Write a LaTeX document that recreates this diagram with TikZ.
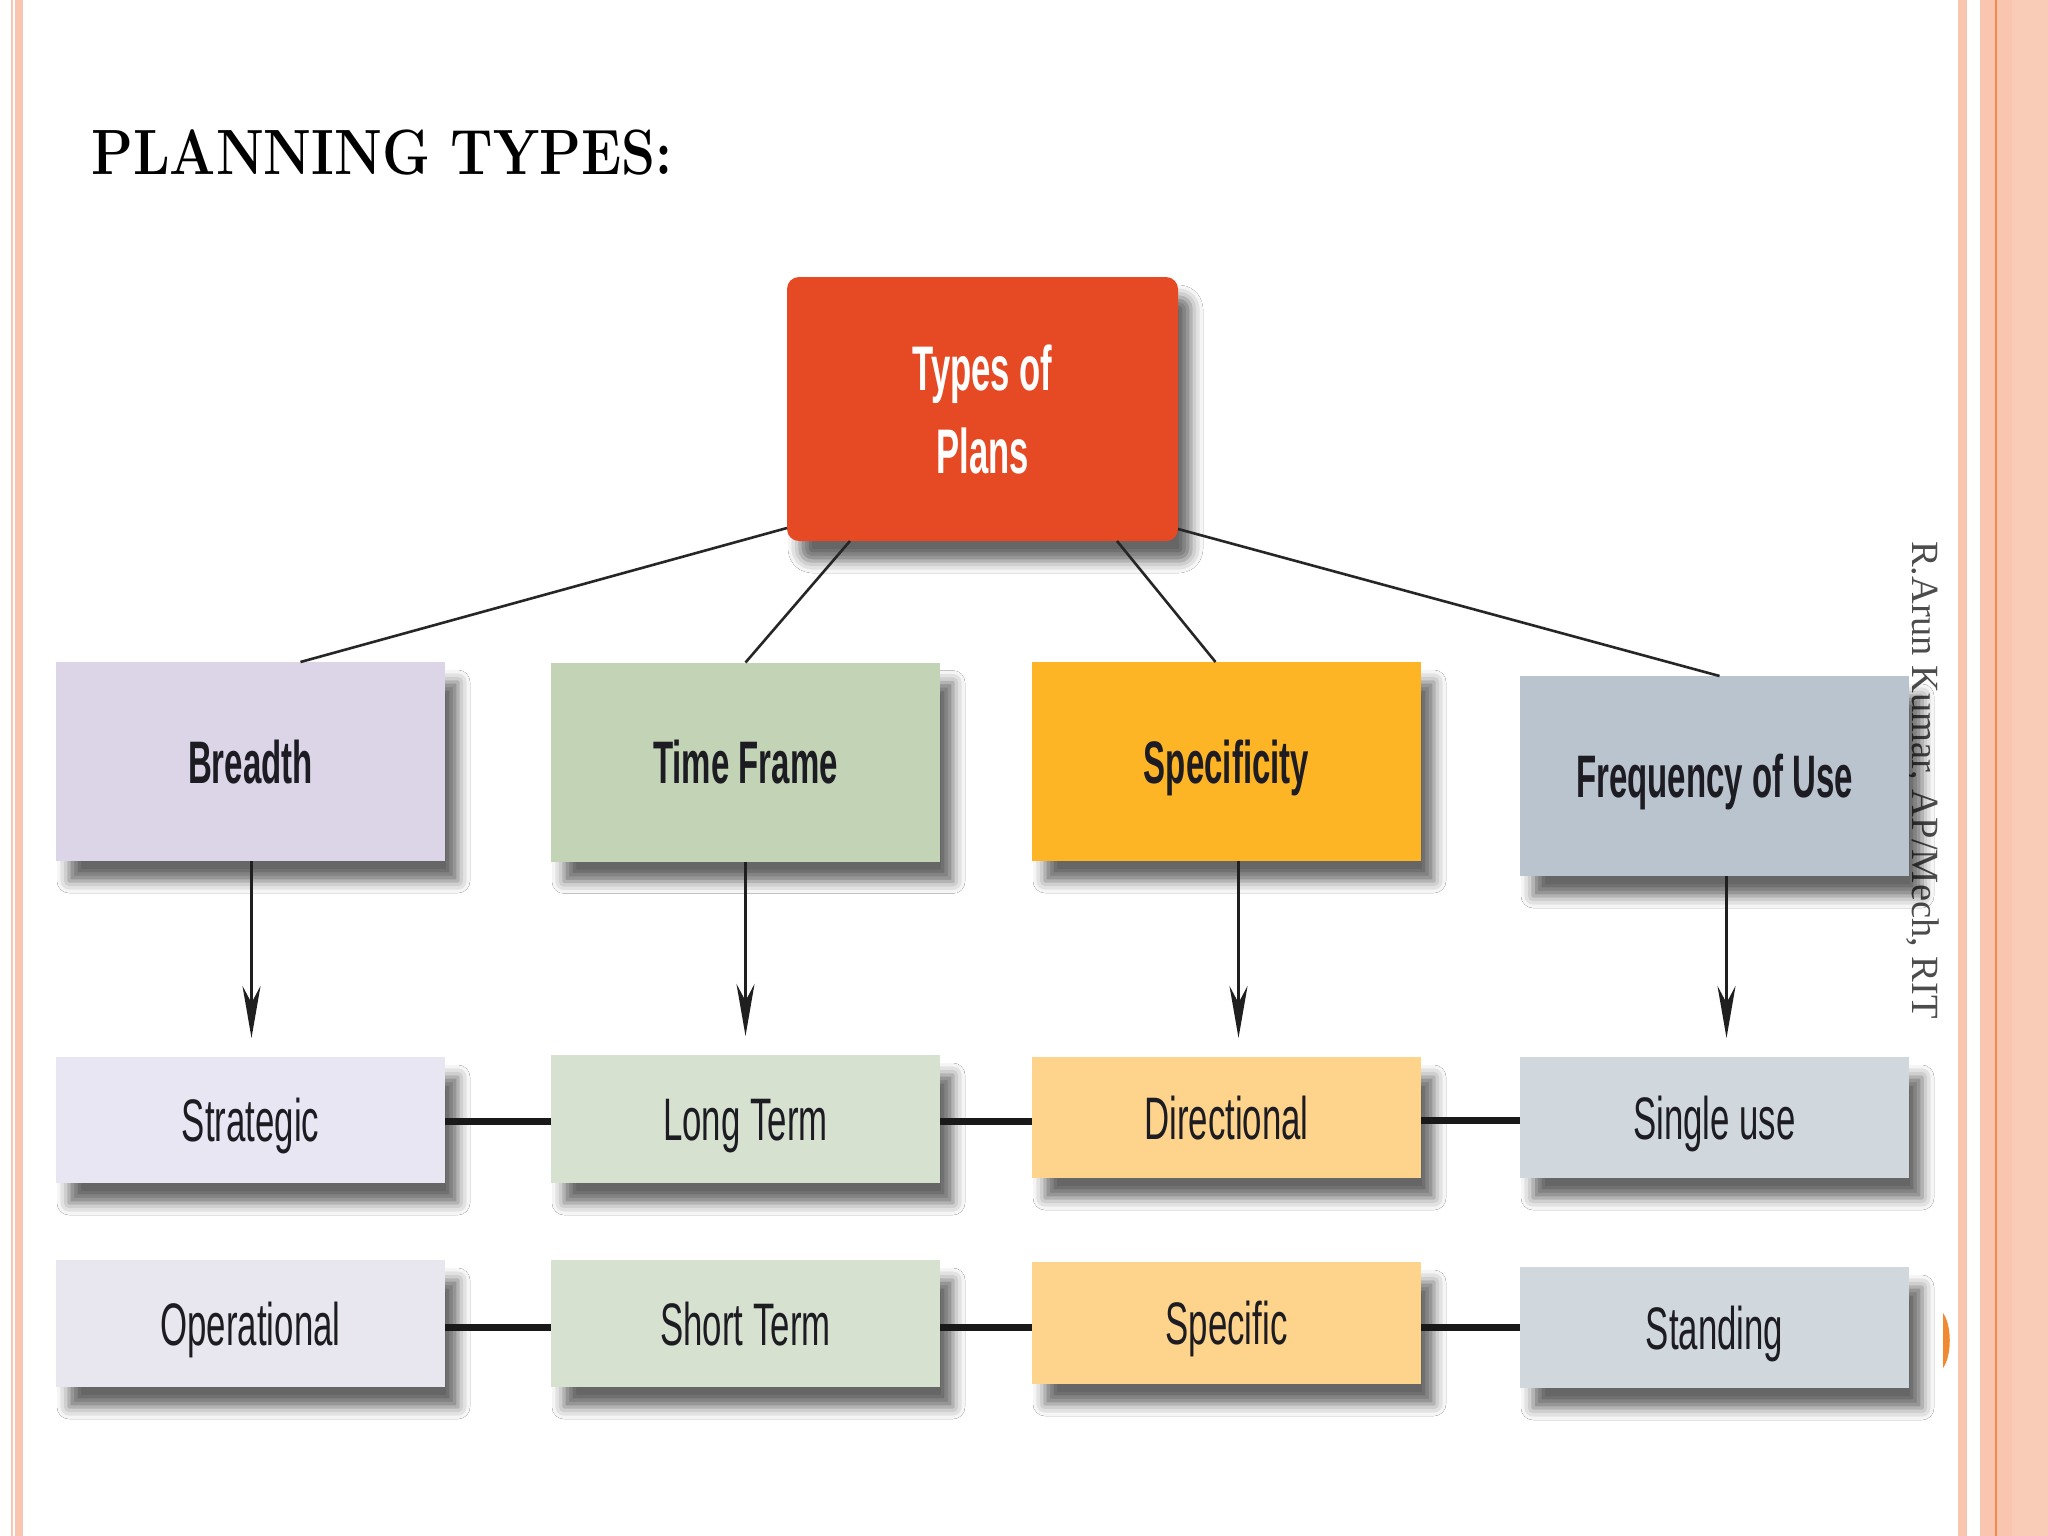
\documentclass[tikz,border=0pt]{standalone}
\usepackage{fontspec}
\usetikzlibrary{shadows.blur,arrows.meta,calc}
\newfontfamily\condb[FakeStretch=0.55]{Liberation Sans}
\newfontfamily\condr[FakeStretch=0.58]{Liberation Sans}
\newfontfamily\bylinefont{Liberation Serif}
\definecolor{topc}{HTML}{E64A25}
\definecolor{brc}{HTML}{DCD5E8}
\definecolor{strc}{HTML}{E9E6F3}
\definecolor{opc}{HTML}{E8E7EF}
\definecolor{tfc}{HTML}{C3D3B5}
\definecolor{ltc}{HTML}{D7E1D0}
\definecolor{spc}{HTML}{FDB526}
\definecolor{dirc}{HTML}{FED48D}
\definecolor{frc}{HTML}{B9C4CE}
\definecolor{suc}{HTML}{D0D8DE}
\definecolor{stripec}{HTML}{FAC5AE}
\definecolor{stripeb}{HTML}{F9CCB8}
\definecolor{orline}{HTML}{EF8B4F}
\definecolor{sliver}{HTML}{F0892F}
\definecolor{txt}{HTML}{1C1C22}
\begin{document}
\begin{tikzpicture}[x=1pt,y=-1pt,
  box/.style={draw=none, minimum width=389pt, inner sep=0pt, outer sep=0pt,
    text=txt, align=center,
    blur shadow={shadow xshift=13pt,shadow yshift=-20pt,shadow blur radius=12pt,shadow opacity=60}},
  midbox/.style={box, minimum height=199pt, text height=43pt, text depth=0pt,
    font=\condb\bfseries\fontsize{60}{72}\selectfont},
  lowbox/.style={box, text height=43pt, text depth=0pt, font=\condr\fontsize{60}{72}\selectfont},
  fan/.style={line width=2.6pt, draw=black!85},
  arr/.style={line width=3.5pt, draw=black!88, -{Stealth[length=52pt,width=18pt]}, shorten >=19pt},
  link/.style={line width=7pt, draw=black!90}]
\useasboundingbox (0,0) rectangle (2048,1536);
\fill[white] (0,0) rectangle (2048,1536);
% page decoration
\fill[stripec] (11,0) rectangle (13,1536);
\fill[stripec] (15,0) rectangle (23,1536);
\fill[stripec] (1958,0) rectangle (1967,1536);
\fill[stripec] (1980,0) rectangle (2048,1536);
\fill[stripeb] (2012,0) rectangle (2048,1536);
\fill[orline] (1995,0) rectangle (1997,1536);
\fill[sliver] (1943,1313) .. controls (1952,1325) and (1952,1356) .. (1943,1368) -- cycle;
% title
\node[anchor=base west, inner sep=0pt, font=\bfseries\fontsize{64}{76}\selectfont] (title) at (91,175) {\scalebox{0.85}[1]{PLANNING TYPES:}};
% byline
\node[rotate=-90, inner sep=0pt, text=black!70, font=\bylinefont\fontsize{38.5}{44}\selectfont] (byline) at (1923,780) {R.Arun Kumar, AP/Mech, RIT};
% top node
\node[box, fill=topc, minimum width=391pt, minimum height=264pt, rounded corners=12pt, text=white,
  font=\condb\bfseries\fontsize{63}{83}\selectfont] (top) at (982.5,409) {Types of\\Plans};
% middle row
\node[midbox, fill=brc] (breadth) at (250.5,761.5) {Breadth};
\node[midbox, fill=tfc] (timeframe) at (745.5,762) {Time Frame};
\node[midbox, fill=spc] (specificity) at (1226.5,761.5) {Specificity};
\node[midbox, fill=frc, minimum height=200pt] (frequency) at (1714.5,776) {Frequency of Use};
% row 1
\node[lowbox, fill=strc, minimum height=126pt] (strategic) at (250.5,1120) {Strategic};
\node[lowbox, fill=ltc, minimum height=128pt] (longterm) at (745.5,1119) {Long Term};
\node[lowbox, fill=dirc, minimum height=121pt] (directional) at (1226.5,1117.5) {Directional};
\node[lowbox, fill=suc, minimum height=121pt] (singleuse) at (1714.5,1117.5) {Single use};
% row 2
\node[lowbox, fill=opc, minimum height=127pt] (operational) at (250.5,1323.5) {Operational};
\node[lowbox, fill=ltc, minimum height=127pt] (shortterm) at (745.5,1323.5) {Short Term};
\node[lowbox, fill=dirc, minimum height=122pt] (specific) at (1226.5,1323) {Specific};
\node[lowbox, fill=suc, minimum height=121pt] (standing) at (1714.5,1327.5) {Standing};
% fan lines
\draw[fan] ([yshift=13pt]top.south west) -- ([xshift=50pt]breadth.north);
\draw[fan] ([xshift=63pt]top.south west) -- (timeframe.north);
\draw[fan] ([xshift=-61pt]top.south east) -- ([xshift=-11pt]specificity.north);
\draw[fan] ([yshift=12pt]top.south east) -- ([xshift=5pt]frequency.north);
% arrows
\draw[arr] ([xshift=1pt]breadth.south) -- ([xshift=1pt]strategic.north);
\draw[arr] (timeframe.south) -- (longterm.north);
\draw[arr] ([xshift=12pt]specificity.south) -- ([xshift=12pt]directional.north);
\draw[arr] ([xshift=12pt]frequency.south) -- ([xshift=12pt]singleuse.north);
% links
\draw[link] ([yshift=-1pt]strategic.east) -- ([yshift=-1pt]strategic.east -| longterm.west);
\draw[link] ([yshift=-2pt]longterm.east) -- ([yshift=-2pt]longterm.east -| directional.west);
\draw[link] ([yshift=-3pt]directional.east) -- ([yshift=-3pt]singleuse.west);
\draw[link] ([yshift=-3.5pt]operational.east) -- ([yshift=-3.5pt]shortterm.west);
\draw[link] ([yshift=-3.5pt]shortterm.east) -- ([yshift=-3.5pt]shortterm.east -| specific.west);
\draw[link] ([yshift=-4pt]specific.east) -- ([yshift=-4pt]specific.east -| standing.west);
\end{tikzpicture}
\end{document}
